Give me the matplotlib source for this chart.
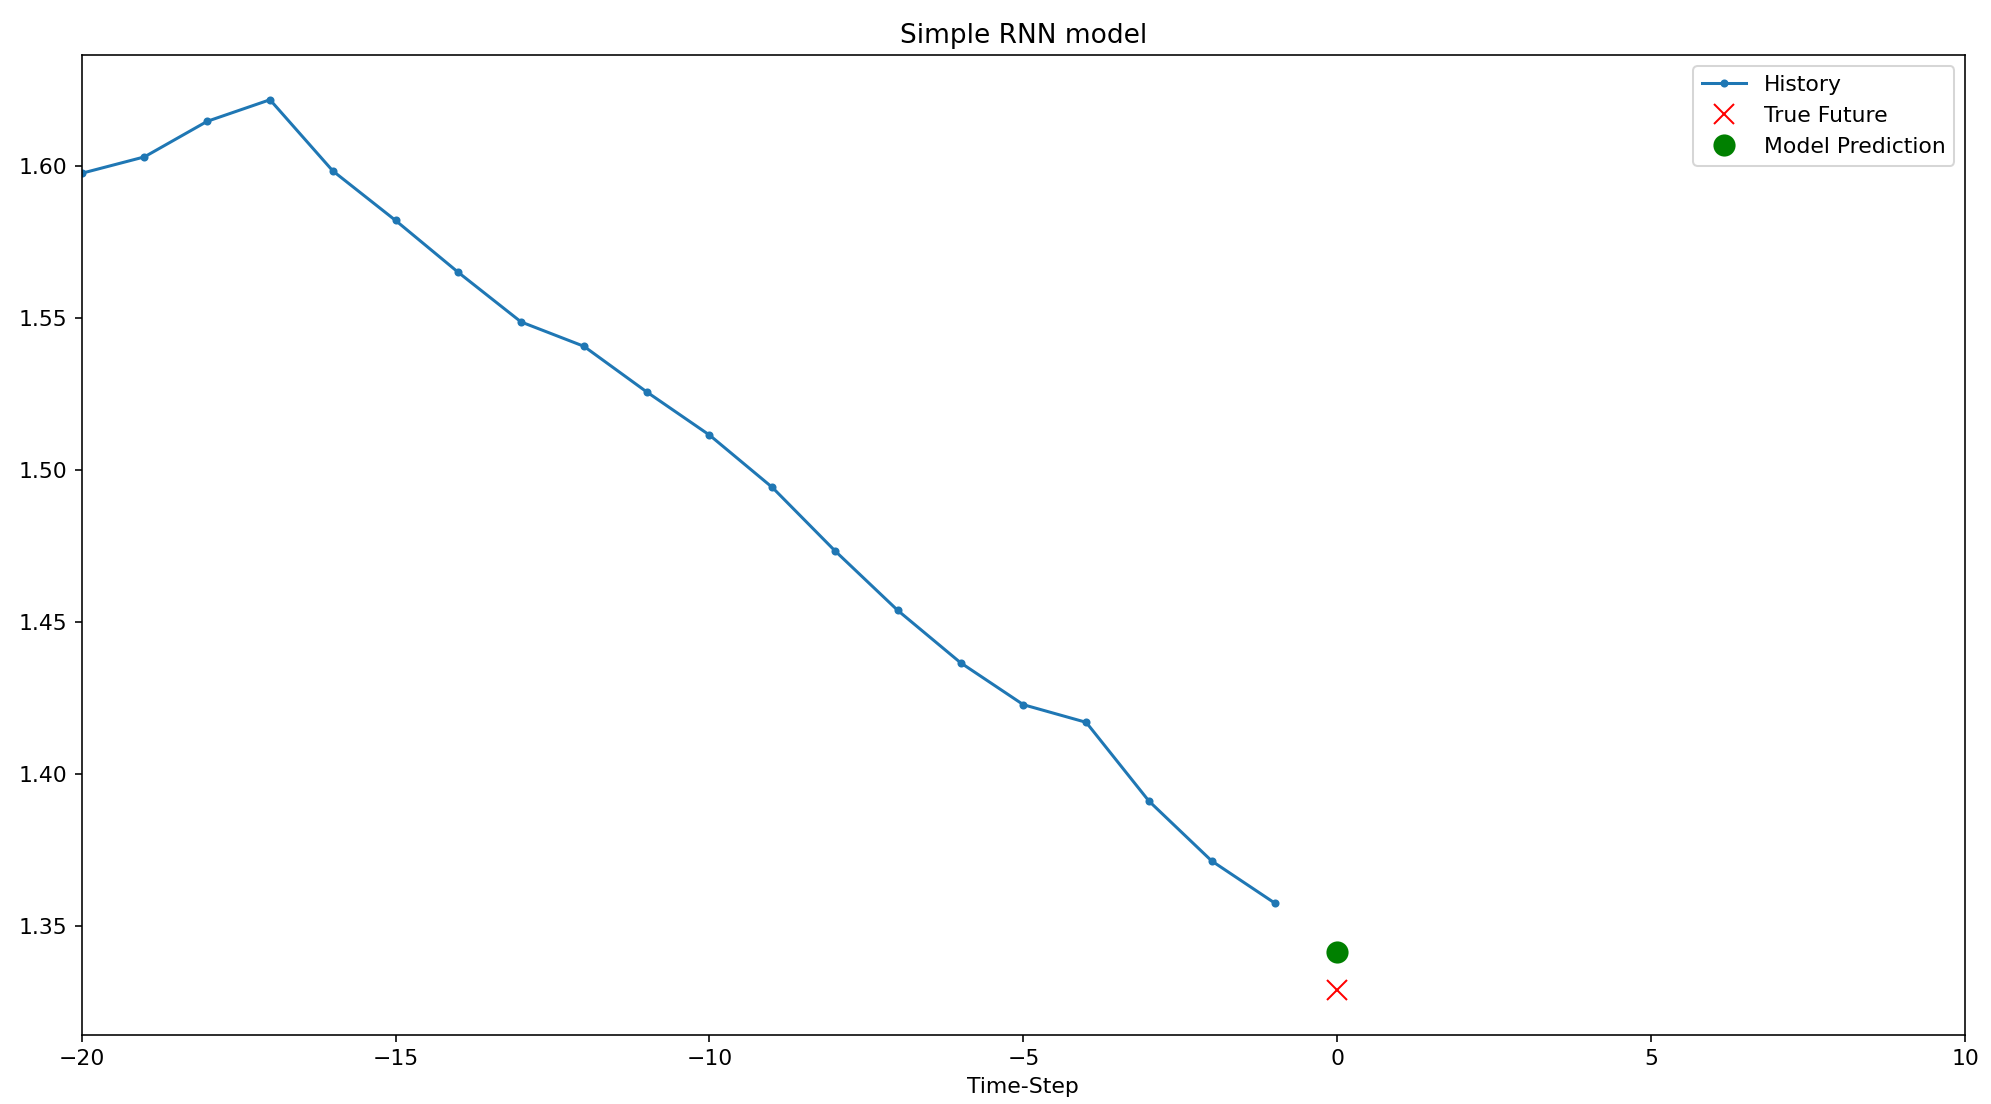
import matplotlib
matplotlib.use('Agg')
import matplotlib.pyplot as plt

## Data
history_steps = list(range(-20, 0))
history_values = [1.5975, 1.6029, 1.6146, 1.6217, 1.5983, 1.5820, 1.5649, 1.5486,
                  1.5406, 1.5256, 1.5114, 1.4942, 1.4733, 1.4537, 1.4365, 1.4227,
                  1.4169, 1.3910, 1.3713, 1.3575]
future_step = 0
true_future = 1.3287
model_prediction = 1.3412

## Slightly larger text than the default to match the reference
plt.rcParams['font.size'] = 10.9

## Plot
fig = plt.figure(figsize=(1991 / 145, 1104 / 145), dpi=145)
ax = fig.add_axes([0.041, 0.0625, 0.946, 0.8875])

ax.plot(history_steps, history_values, '.-', label='History')
ax.plot(future_step, true_future, 'rx', markersize=10, label='True Future')
ax.plot(future_step, model_prediction, 'go', markersize=10, label='Model Prediction')

ax.legend()
ax.set_xlim([-20, 10])
ax.set_xlabel('Time-Step')
ax.set_title('Simple RNN model')

fig.savefig('out.png', dpi=145)
